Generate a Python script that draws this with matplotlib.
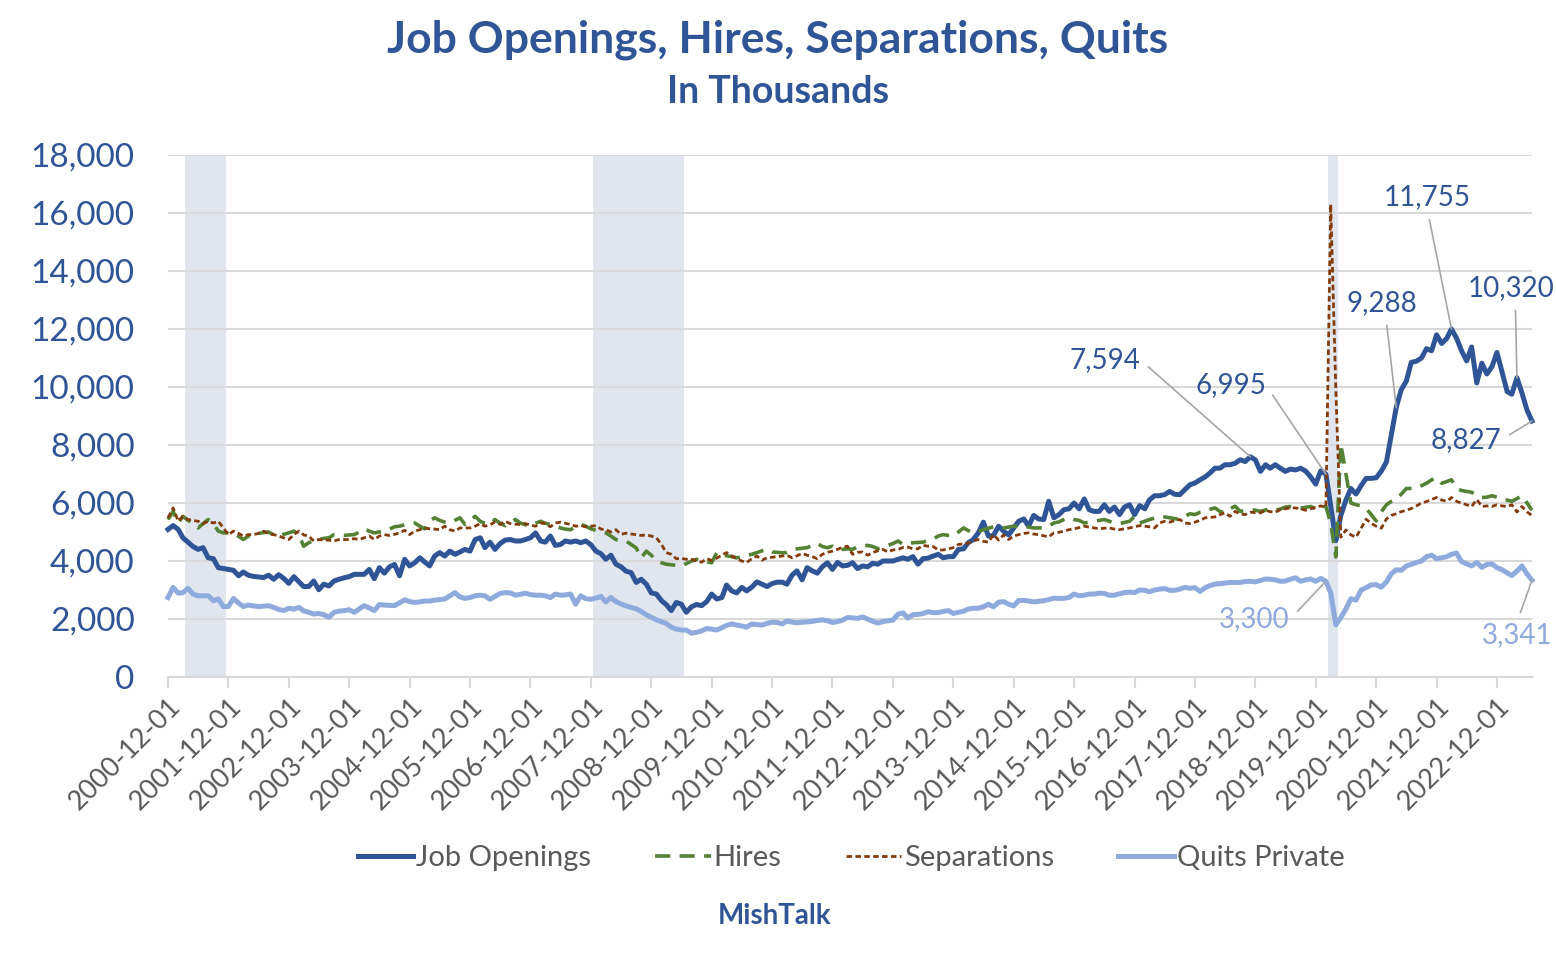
import numpy as np
import pandas as pd
import matplotlib
matplotlib.use("Agg")
import matplotlib.pyplot as plt

plt.rcParams['font.family'] = ['Lato', 'DejaVu Sans']

# JOLTS series, thousands, monthly from 2000-12
job_openings = [5090,
    5220, 5090, 4800, 4650, 4500, 4400, 4460, 4110, 4080, 3770, 3740, 3710,  # 2001
    3680, 3490, 3620, 3510, 3470, 3450, 3430, 3510, 3370, 3530, 3400, 3230,  # 2002
    3460, 3280, 3120, 3120, 3310, 3010, 3200, 3140, 3310, 3370, 3420, 3460,  # 2003
    3540, 3540, 3540, 3710, 3390, 3770, 3580, 3800, 3880, 3490, 4060, 3830,  # 2004
    3940, 4110, 3970, 3830, 4170, 4290, 4170, 4340, 4230, 4310, 4400, 4340,  # 2005
    4740, 4800, 4460, 4650, 4400, 4600, 4720, 4740, 4690, 4690, 4740, 4800,  # 2006
    4970, 4690, 4650, 4860, 4540, 4570, 4690, 4650, 4690, 4630, 4690, 4570,  # 2007
    4340, 4250, 4060, 4200, 3890, 3800, 3650, 3600, 3260, 3370, 3200, 2900,  # 2008
    2860, 2630, 2500, 2290, 2570, 2510, 2230, 2420, 2500, 2460, 2600, 2860,  # 2009
    2690, 2740, 3170, 2970, 2900, 3090, 2970, 3100, 3280, 3200, 3120, 3220,  # 2010
    3270, 3270, 3200, 3510, 3660, 3350, 3770, 3660, 3580, 3800, 3940, 3710,  # 2011
    3950, 3830, 3850, 3940, 3740, 3830, 3800, 3920, 3890, 4000, 4000, 4000,  # 2012
    4060, 4110, 4060, 4150, 3890, 4080, 4100, 4170, 4230, 4110, 4150, 4150,  # 2013
    4400, 4420, 4630, 4740, 4970, 5340, 4860, 4880, 5200, 5030, 4900, 5140,  # 2014
    5370, 5450, 5200, 5570, 5450, 5430, 6060, 5490, 5600, 5770, 5800, 6000,  # 2015
    5800, 6140, 5770, 5710, 5710, 5940, 5710, 5860, 5600, 5860, 5940, 5600,  # 2016
    5910, 5800, 6110, 6250, 6250, 6290, 6400, 6300, 6290, 6460, 6630, 6690,  # 2017
    6800, 6900, 7030, 7200, 7200, 7320, 7320, 7370, 7490, 7430, 7594, 7490,  # 2018
    7090, 7320, 7200, 7320, 7200, 7090, 7170, 7140, 7200, 7100, 6900, 6650,  # 2019
    7110, 6995, 5900, 4700, 5570, 6100, 6500, 6310, 6600, 6850, 6850, 6870,  # 2020
    7100, 7420, 8300, 9288, 9900, 10200, 10850, 10890, 11000, 11320, 11250, 11800,  # 2021
    11500, 11680, 12000, 11680, 11250, 10900, 11380, 10140, 10820, 10450, 10700, 11190,  # 2022
    10510, 9840, 9750, 10320, 9800, 9200, 8827]  # 2023

hires = [5430,
    5710, 5310, 5540, 5400, 5310, 5140, 5290, 5430, 5290, 5030, 4970, 4970,
    4970, 4850, 4740, 4860, 4920, 4950, 4980, 5000, 4900, 4860, 4920, 4970,
    5030, 4900, 4510, 4630, 4700, 4740, 4780, 4800, 4910, 4900, 4880, 4900,
    4910, 5000, 5110, 5030, 4970, 5000, 5030, 5100, 5180, 5200, 5250, 5290,
    5310, 5200, 5110, 5370, 5490, 5400, 5340, 5310, 5400, 5490, 5260, 5400,
    5540, 5370, 5300, 5260, 5430, 5300, 5220, 5330, 5430, 5310, 5250, 5200,
    5300, 5370, 5300, 5260, 5200, 5140, 5100, 5080, 5180, 5260, 5200, 5110,
    5060, 5030, 4970, 4860, 4740, 4700, 4690, 4570, 4450, 4110, 4340, 4200,
    4000, 3940, 3890, 3870, 3850, 3830, 3910, 4000, 4060, 4000, 3970, 3940,
    4290, 4200, 4180, 4150, 4110, 4150, 4200, 4230, 4290, 4350, 4400, 4310,
    4300, 4280, 4290, 4400, 4420, 4440, 4460, 4540, 4610, 4500, 4460, 4510,
    4400, 4400, 4420, 4400, 4490, 4510, 4540, 4500, 4420, 4480, 4540, 4600,
    4690, 4570, 4600, 4630, 4640, 4650, 4700, 4760, 4860, 4910, 4880, 4860,
    5000, 5140, 5050, 4970, 5020, 5080, 5130, 5180, 5120, 5140, 5170, 5200,
    5200, 5200, 5170, 5140, 5140, 5140, 5200, 5310, 5350, 5430, 5490, 5430,
    5400, 5310, 5340, 5370, 5400, 5430, 5370, 5310, 5290, 5330, 5370, 5540,
    5310, 5370, 5430, 5480, 5540, 5520, 5490, 5460, 5430, 5540, 5630, 5600,
    5680, 5710, 5780, 5830, 5710, 5660, 5800, 5890, 5710, 5740, 5770, 5750,
    5710, 5760, 5800, 5750, 5790, 5860, 5880, 5850, 5820, 5850, 5880, 5800,
    5880, 5880, 5300, 4140, 8040, 7000, 6000, 5940, 5900, 5810, 5600, 5380,
    5700, 5940, 6050, 6120, 6300, 6500, 6500, 6500, 6600, 6680, 6800, 6870,
    6680, 6740, 6800, 6500, 6430, 6400, 6370, 6250, 6190, 6200, 6250, 6200,
    6120, 6100, 6060, 6150, 6250, 6000, 5750]

separations = [5490,
    5830, 5370, 5540, 5430, 5400, 5370, 5290, 5370, 5310, 5370, 5140, 4910,
    5030, 4950, 4860, 4910, 4910, 4950, 5030, 4950, 4910, 4860, 4800, 4740,
    4910, 5030, 4900, 4860, 4690, 4740, 4720, 4720, 4690, 4740, 4740, 4740,
    4770, 4740, 4800, 4860, 4740, 4860, 4910, 4880, 4920, 4970, 5060, 4910,
    5030, 5080, 5140, 5110, 5100, 5080, 5200, 5080, 5030, 5140, 5140, 5140,
    5200, 5290, 5200, 5250, 5340, 5260, 5370, 5290, 5270, 5260, 5290, 5240,
    5200, 5310, 5290, 5180, 5310, 5340, 5300, 5260, 5200, 5220, 5180, 5200,
    5220, 5100, 5080, 5000, 5080, 4920, 4960, 4930, 4910, 4880, 4900, 4860,
    4800, 4570, 4290, 4230, 4080, 4090, 4060, 4060, 4000, 3960, 4080, 4020,
    4100, 4200, 4290, 4180, 4080, 4000, 3950, 4080, 4170, 4030, 4110, 4130,
    4150, 4170, 4200, 4110, 4180, 4260, 4200, 4150, 4080, 4230, 4300, 4340,
    4400, 4480, 4510, 4230, 4300, 4310, 4200, 4290, 4350, 4400, 4310, 4380,
    4400, 4470, 4480, 4420, 4420, 4540, 4510, 4500, 4380, 4380, 4420, 4460,
    4570, 4590, 4610, 4690, 4740, 4680, 4650, 4910, 4720, 4900, 4740, 4860,
    4910, 4950, 4970, 4930, 4910, 4870, 4830, 4970, 4990, 5030, 5080, 5110,
    5150, 5200, 5170, 5140, 5110, 5130, 5140, 5100, 5080, 5110, 5140, 5180,
    5220, 5200, 5180, 5140, 5310, 5370, 5340, 5390, 5430, 5310, 5290, 5340,
    5400, 5490, 5500, 5520, 5600, 5660, 5540, 5710, 5620, 5600, 5680, 5670,
    5660, 5750, 5700, 5680, 5770, 5800, 5830, 5830, 5800, 5750, 5800, 5850,
    5900, 5850, 16300, 9900, 4820, 5070, 4900, 4820, 5130, 5440, 5300, 5200,
    5130, 5450, 5570, 5630, 5700, 5750, 5810, 5900, 6000, 6050, 6120, 6190,
    6100, 6060, 6190, 6060, 5990, 5940, 5880, 6120, 5880, 5900, 5880, 5940,
    5900, 5880, 5940, 5690, 5880, 5690, 5570]

quits_private = [2740,
    3090, 2890, 2910, 3060, 2860, 2800, 2800, 2800, 2630, 2690, 2430, 2430,
    2710, 2550, 2430, 2480, 2450, 2430, 2440, 2460, 2400, 2330, 2290, 2370,
    2340, 2400, 2280, 2230, 2170, 2190, 2150, 2060, 2230, 2270, 2290, 2320,
    2230, 2350, 2460, 2380, 2290, 2500, 2480, 2470, 2460, 2560, 2660, 2600,
    2570, 2590, 2620, 2620, 2650, 2670, 2690, 2800, 2910, 2760, 2710, 2740,
    2800, 2820, 2800, 2680, 2780, 2880, 2910, 2900, 2820, 2850, 2890, 2840,
    2820, 2820, 2800, 2740, 2860, 2820, 2830, 2860, 2510, 2800, 2700, 2680,
    2720, 2780, 2590, 2740, 2600, 2520, 2450, 2400, 2350, 2260, 2140, 2060,
    1970, 1910, 1850, 1720, 1650, 1620, 1620, 1510, 1540, 1590, 1670, 1650,
    1620, 1700, 1780, 1830, 1790, 1760, 1720, 1830, 1810, 1790, 1850, 1890,
    1880, 1830, 1930, 1890, 1870, 1890, 1900, 1920, 1950, 1970, 1940, 1880,
    1910, 1960, 2050, 2040, 2020, 2070, 2000, 1920, 1860, 1910, 1940, 1960,
    2170, 2210, 2030, 2150, 2160, 2190, 2250, 2220, 2220, 2260, 2290, 2190,
    2230, 2270, 2340, 2370, 2370, 2420, 2510, 2420, 2580, 2600, 2510, 2450,
    2640, 2640, 2620, 2590, 2610, 2630, 2670, 2720, 2710, 2710, 2740, 2860,
    2800, 2820, 2860, 2860, 2890, 2880, 2820, 2820, 2870, 2910, 2930, 2910,
    3000, 2990, 2940, 3000, 3030, 3050, 2990, 2990, 3030, 3090, 3060, 3080,
    2950, 3080, 3150, 3200, 3220, 3240, 3260, 3260, 3260, 3290, 3300, 3280,
    3330, 3380, 3370, 3350, 3300, 3310, 3370, 3420, 3300, 3350, 3380, 3300,
    3400, 3300, 2900, 1800, 2050, 2350, 2700, 2650, 3000, 3080, 3180, 3180,
    3100, 3280, 3550, 3700, 3680, 3830, 3880, 3950, 4000, 4150, 4200, 4080,
    4110, 4150, 4230, 4270, 3980, 3900, 3830, 3950, 3780, 3880, 3900, 3770,
    3700, 3590, 3500, 3650, 3830, 3550, 3341]

recessions = [("2001-03-01", "2001-11-01"), ("2007-12-01", "2009-06-01"), ("2020-02-01", "2020-04-01")]

# (series, month, label text)
callouts = [("jo", "2018-11-01", "7,594"), ("jo", "2020-02-01", "6,995"),
            ("jo", "2021-04-01", "9,288"), ("jo", "2022-03-01", "11,755"),
            ("jo", "2023-04-01", "10,320"), ("jo", "2023-07-01", "8,827"),
            ("quits", "2020-02-01", "3,300"), ("quits", "2023-07-01", "3,341")]

assert len(job_openings) == len(hires) == len(separations) == len(quits_private)
dates = pd.date_range("2000-12-01", periods=len(job_openings), freq="MS")

BLUE = "#2F5597"
GREEN = "#548235"
BROWN = "#843C0C"
LIGHT = "#8FAADC"
GRID = "#D9D9D9"

fig = plt.figure(figsize=(15.56, 9.74), dpi=100)
ax = fig.add_axes([168/1556, 1-677/974, (1532-168)/1556, (677-155)/974])

half = pd.Timedelta(days=15)
for a, b in recessions:
    ax.axvspan(pd.Timestamp(a) + half, pd.Timestamp(b) + half, color="#E1E5EE", lw=0, zorder=0.2)

ax.plot(dates, job_openings, color=BLUE, lw=3.6, label="Job Openings", clip_on=False, solid_joinstyle="round")
ax.plot(dates, hires, color=GREEN, lw=2.6, dashes=(4.2, 2.6), label="Hires", clip_on=False)
ax.plot(dates, separations, color=BROWN, lw=2.0, dashes=(2.0, 1.2), label="Separations", clip_on=False)
ax.plot(dates, quits_private, color=LIGHT, lw=3.6, label="Quits Private", clip_on=False, solid_joinstyle="round")

ax.set_xlim(dates[0], dates[-1])
ax.set_ylim(0, 18000)
ax.set_yticks(np.arange(0, 18001, 2000))
ax.set_yticklabels([f"{v:,.0f}" for v in np.arange(0, 18001, 2000)])
ax.yaxis.grid(True, color=GRID, lw=1.5)
ax.set_axisbelow(True)
for s in ["left", "right", "top"]:
    ax.spines[s].set_visible(False)
ax.spines["bottom"].set_color(GRID)
ax.spines["bottom"].set_linewidth(1.5)

xt = pd.date_range("2000-12-01", "2022-12-01", freq="12MS")
ax.set_xticks(xt)
ax.set_xticklabels([d.strftime("%Y-%m-%d") for d in xt])
ax.tick_params(axis="x", length=8, width=1.5, color=GRID, labelsize=19.5, labelcolor="#595959", pad=4)
ax.tick_params(axis="y", length=0, labelsize=24, labelcolor=BLUE, pad=24)
plt.setp(ax.get_xticklabels(), rotation=45, ha="right", rotation_mode="anchor")

series = {"jo": job_openings, "quits": quits_private}
offsets = {"7,594": (-110, 97, "right", (1, 0.5)), "6,995": (-60, 89, "right", (1, 0.5)),
           "9,288": (-14, 105, "center", (0.55, 0)), "11,755": (-24, 132, "center", (0.5, 0)),
           "10,320": (-6, 90, "center", (0.55, 0)), "8,827": (-31, -19, "right", (1, 0.5)),
           "3,300": (-36, -38, "right", (1, 0.5)), "3,341": (-15, -55, "center", (0.5, 1))}
for key, month, text in callouts:
    i = dates.get_loc(pd.Timestamp(month))
    dx, dy, ha, rp = offsets[text]
    col = LIGHT if key == "quits" else BLUE
    ax.annotate(text, xy=(dates[i], series[key][i]), xytext=(dx, dy), textcoords="offset pixels",
                ha=ha, va="center", fontsize=20, color=col, annotation_clip=False,
                arrowprops=dict(arrowstyle="-", color="#A6A6A6", lw=1.2, shrinkA=5, shrinkB=0, relpos=rp))

fig.text(0.5, 1-40/974, "Job Openings, Hires, Separations, Quits", ha="center", va="center",
         fontsize=32, fontweight="bold", color=BLUE)
fig.text(0.5, 1-92/974, "In Thousands", ha="center", va="center", fontsize=27, fontweight="bold", color=BLUE)
fig.text(775/1556, 1-916/974, "MishTalk", ha="center", va="center", fontsize=20, fontweight="bold", color=BLUE)

fig.legend(loc="center", bbox_to_anchor=(851/1556, 1-858/974), ncol=4, frameon=False, fontsize=21,
           handlelength=1.9, handletextpad=0.1, columnspacing=2.2, labelcolor="#595959")

fig.savefig("out.png", dpi=100)
